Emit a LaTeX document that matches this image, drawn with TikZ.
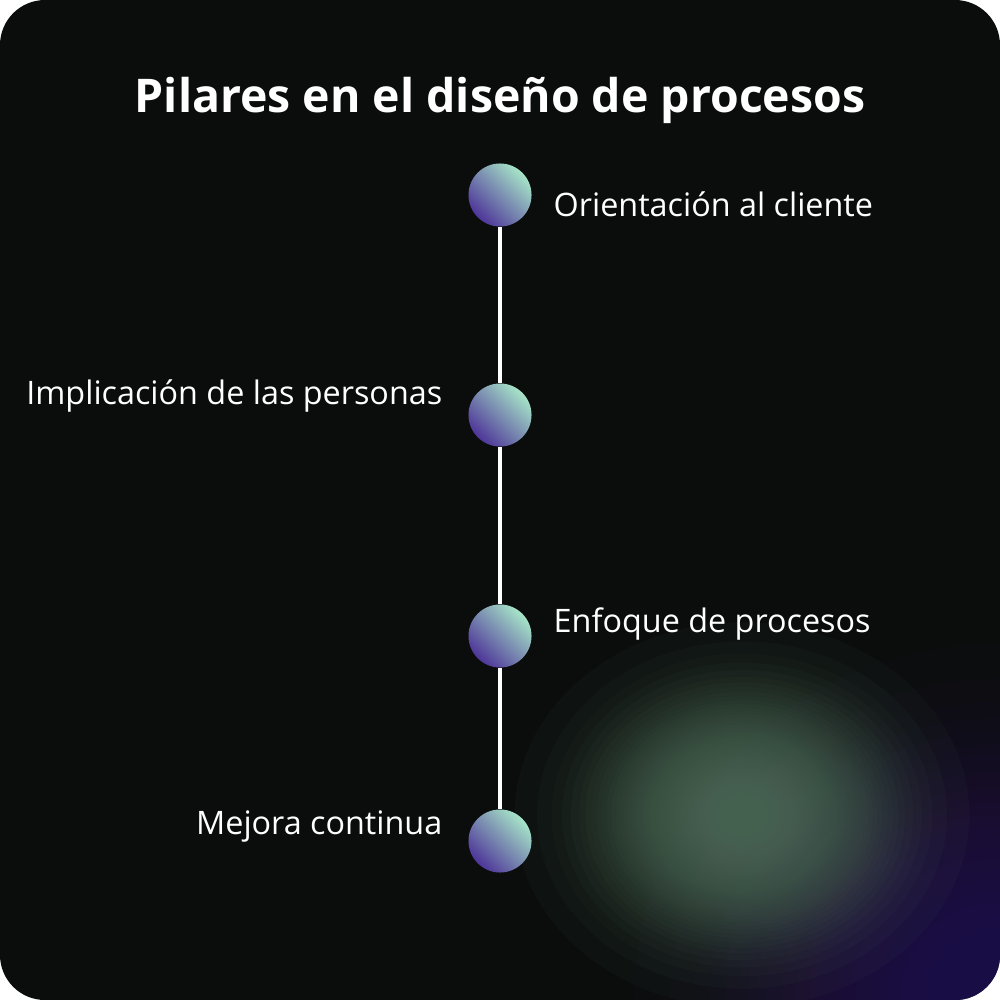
\documentclass[tikz,border=0pt]{standalone}
\usepackage{fontspec}
\setmainfont{Open Sans}
\usepackage{tikz}
\usetikzlibrary{calc}
\definecolor{boardbg}{HTML}{0B0D0C}
\definecolor{mint}{HTML}{A6E4C8}
\definecolor{violet}{HTML}{4E3599}
\definecolor{glowgreen}{HTML}{577662}
\definecolor{glowviolet}{HTML}{2C1F58}
\tikzset{
  pillar/.style={circle, minimum size=0.63cm, inner sep=0pt, shading=axis,
    top color=mint, bottom color=violet, shading angle=-45},
  pillarlabel/.style={text=white, font=\fontsize{9.2}{12}\selectfont, inner sep=0pt},
  pillarline/.style={draw=white, line width=1.1pt}
}

\begin{document}
\begin{tikzpicture}[x=0.01cm, y=-0.01cm]
\useasboundingbox (0,0) rectangle (1000,1000);
\begin{scope}
\clip[rounded corners=0.45cm] (0,0) rectangle (1000,1000);
\fill[boardbg] (0,0) rectangle (1000,1000);
% glows in the corner
\foreach \k [evaluate=\k as \rr using {sqrt(-ln(\k/41))}] in {1,...,40}
  \fill[glowviolet, opacity=0.05] (1000,1000) ellipse ({\rr*190} and {\rr*185});
\foreach \k [evaluate=\k as \rr using {sqrt(-ln(\k/41))}] in {1,...,40}
  \fill[glowgreen, opacity=0.05] (742,815) ellipse ({\rr*118} and {\rr*100});
\end{scope}

\node[text=white, font=\bfseries\fontsize{13.2}{16}\selectfont, inner sep=0pt, anchor=base]
  (title) at (500,112) {Pilares en el diseño de procesos};

\node[pillar] (p1) at (500,195) {};
\node[pillar] (p2) at (500,415) {};
\node[pillar] (p3) at (500,636) {};
\node[pillar] (p4) at (500,841) {};

\foreach \a/\b in {p1/p2,p2/p3,p3/p4}
  \draw[pillarline] (\a) -- (\b);

\node[pillarlabel, anchor=base west] (l1) at (553,216) {Orientación al cliente};
\node[pillarlabel, anchor=base east] (l2) at (443,404) {Implicación de las personas};
\node[pillarlabel, anchor=base west] (l3) at (553,632) {Enfoque de procesos};
\node[pillarlabel, anchor=base east] (l4) at (443,834) {Mejora continua};
\end{tikzpicture}
\end{document}
